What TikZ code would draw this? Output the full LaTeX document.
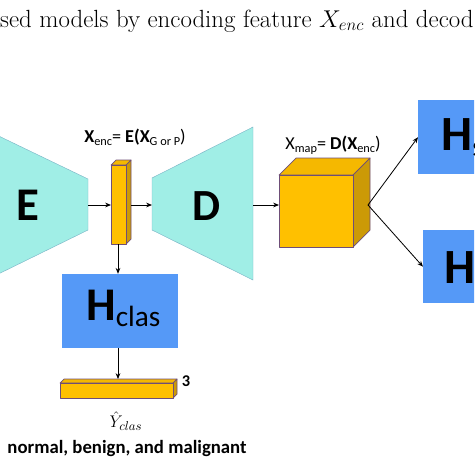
\documentclass[tikz,border=0pt]{standalone}
\usepackage{fontspec}
\newfontfamily\carl{Carlito}
\definecolor{teal1}{HTML}{A0EEE6}
\definecolor{tealB}{HTML}{7FB8C8}
\definecolor{gold1}{HTML}{FFC000}
\definecolor{gold2}{HTML}{CC9A06}
\definecolor{gold3}{HTML}{F5B800}
\definecolor{goldB}{HTML}{6E4E78}
\definecolor{blue1}{HTML}{5599F7}
\tikzset{
  trap/.style={fill=teal1,draw=tealB,line width=0.4pt},
  front/.style={fill=gold1,draw=goldB,line width=0.6pt,line join=round},
  side/.style={fill=gold2,draw=goldB,line width=0.6pt,line join=round},
  topf/.style={fill=gold3,draw=goldB,line width=0.6pt,line join=round},
  hbox/.style={fill=blue1,draw=none,inner sep=0pt},
  arr/.style={-{Stealth[length=5pt,width=4pt]},line width=0.7pt,black},
  big/.style={font=\carl\bfseries\fontsize{40}{40}\selectfont},
  lab/.style={font=\carl\fontsize{15.5}{15.5}\selectfont,inner sep=0pt}
}
\usetikzlibrary{arrows.meta}
\newcommand\sbx[1]{\raisebox{-0.35ex}{\fontsize{10.5}{10.5}\selectfont #1}}
\begin{document}
\begin{tikzpicture}[x=0.03cm,y=-0.03cm]
\useasboundingbox (0,0) rectangle (474,474);
\clip (0,0) rectangle (474,474);
% caption fragment
\node[anchor=base west,inner sep=0pt,font=\fontsize{21.2}{21.2}\selectfont] (cap) at (0,27) {sed models by encoding feature $X_{enc}$ and decod};
% encoder
\draw[trap] (-20,127) -- (88,179) -- (88,230) -- (-20,283) -- cycle;
\node[big] (E) at (28,205) {E};
\coordinate (Eout) at (88,205);
% decoder
\draw[trap] (152,178) -- (253,127) -- (253,280) -- (152,230) -- cycle;
\node[big,font=\carl\bfseries\fontsize{38}{38}\selectfont] (D) at (207,206) {D};
\coordinate (Din) at (152,205);
\coordinate (Dout) at (253,205);
% vertical bar
\draw[topf] (111,165) -- (116,160) -- (131,160) -- (126,165) -- cycle;
\draw[side] (126,165) -- (131,160) -- (131,239) -- (126,244) -- cycle;
\draw[front] (111,165) rectangle (126,244);
\coordinate (barL) at (111,205);
\coordinate (barR) at (131,205);
\coordinate (barB) at (118,244);
\node[lab] (xenc) at (135,137) {\textbf{X}\sbx{enc}= \textbf{E(X}\sbx{G or P})};
% H clas
\node[hbox,minimum width=3.48cm,minimum height=2.22cm] (hclas) at (120,311) {};
\node[anchor=base west,inner sep=0pt] (hclast) at (86,320) {\carl\bfseries\fontsize{40}{40}\selectfont H\mdseries\fontsize{25}{25}\selectfont\raisebox{-0.5ex}{clas}};
% flat bar
\draw[topf] (60,383) -- (64,379) -- (177,379) -- (173,383) -- cycle;
\draw[side] (173,383) -- (177,379) -- (177,394) -- (173,398) -- cycle;
\draw[front] (60,383) rectangle (173,398);
\coordinate (flatT) at (118,379);
\node[inner sep=0pt,font=\carl\bfseries\fontsize{14}{14}\selectfont] (three) at (186,381) {3};
\node[inner sep=0pt,font=\fontsize{15}{15}\selectfont] (yhat) at (126,421) {$\hat{Y}_{clas}$};
\node[inner sep=0pt,font=\carl\bfseries\fontsize{16}{16}\selectfont] (classes) at (127,449) {normal, benign, and malignant};
% cube
\draw[topf] (279,175) -- (296,158) -- (370,158) -- (353,175) -- cycle;
\draw[side] (353,175) -- (370,158) -- (370,230) -- (353,247) -- cycle;
\draw[front] (279,175) rectangle (353,247);
\coordinate (cubeL) at (279,205);
\coordinate (cubeR) at (368,205);
\node[lab] (xmap) at (333,145) {X\sbx{map}= \textbf{D(X}\sbx{enc})};
% heads
\node[hbox,minimum width=2.46cm,minimum height=2.22cm,anchor=north west] (hseg) at (418,100) {};
\node[anchor=base west,inner sep=0pt] (hsegt) at (441,150) {\carl\bfseries\fontsize{42}{42}\selectfont H\mdseries\fontsize{25}{25}\selectfont\raisebox{-0.5ex}{seg}};
\node[hbox,minimum width=2.31cm,minimum height=2.19cm,anchor=north west] (hrec) at (423,230) {};
\node[anchor=base west,inner sep=0pt] (hrect) at (444,283) {\carl\bfseries\fontsize{42}{42}\selectfont H};
% connectors
\draw[arr] (Eout) -- (barL);
\draw[arr] (barR) -- (Din);
\draw[arr] (Dout) -- (cubeL);
\draw[arr] (barB) -- (barB |- hclas.north);
\draw[arr] (barB |- hclas.south) -- (flatT);
\draw[arr] (cubeR) -- (hseg.west);
\draw[arr] (cubeR) -- (hrec.west);
\end{tikzpicture}
\end{document}
